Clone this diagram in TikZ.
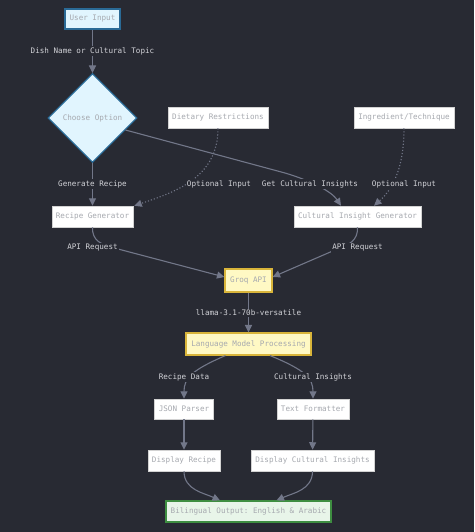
\documentclass[tikz,border=0pt]{standalone}
\usepackage{fontspec}
\setmonofont{DejaVu Sans Mono}
\usetikzlibrary{shapes.geometric,arrows.meta}
\definecolor{bg}{HTML}{282A33}
\definecolor{edgec}{HTML}{727789}
\definecolor{lblc}{HTML}{D2D3D8}
\definecolor{ntext}{HTML}{A6A9AF}
\definecolor{bluefill}{HTML}{E1F5FE}
\definecolor{blueedge}{HTML}{2A6A96}
\definecolor{yelfill}{HTML}{FFF9C4}
\definecolor{yeledge}{HTML}{D9B53A}
\definecolor{grnfill}{HTML}{E8F5E9}
\definecolor{grnedge}{HTML}{3E8E41}
\tikzset{
  base/.style={font=\ttfamily\fontsize{7.6}{9}\selectfont, text=ntext, inner sep=0pt, minimum height=21pt},
  plain/.style={base, fill=white, draw=gray!35, line width=0.5pt},
  bluebox/.style={base, fill=bluefill, draw=blueedge, line width=1.1pt},
  yelbox/.style={base, fill=yelfill, draw=yeledge, line width=1.1pt},
  grnbox/.style={base, fill=grnfill, draw=grnedge, line width=1.1pt},
  decision/.style={base, diamond, fill=bluefill, draw=blueedge, line width=1.1pt, minimum width=89pt, minimum height=89pt},
  lbl/.style={font=\ttfamily\fontsize{7.6}{9}\selectfont, text=lblc, fill=bg, inner sep=1pt},
  conn/.style={draw=edgec, line width=1.1pt, -{Triangle[length=7.5pt,width=7pt]}},
  optconn/.style={conn, dotted},
}
\begin{document}
\begin{tikzpicture}[x=1pt,y=-1pt]
\useasboundingbox (0,0) rectangle (474,532);
\fill[bg] (0,0) rectangle (474,532);

\node[bluebox, minimum width=55pt, minimum height=20pt] (ui) at (92.5,19) {User Input};
\node[decision] (dia) at (92.5,118) {Choose Option};
\node[plain, minimum width=100pt] (diet) at (218,117.5) {Dietary Restrictions};
\node[plain, minimum width=100pt] (ingr) at (404,117.5) {Ingredient/Technique};
\node[plain, minimum width=81pt] (rg) at (92.5,216.5) {Recipe Generator};
\node[plain, minimum width=127pt] (cig) at (357.5,216.5) {Cultural Insight Generator};
\node[yelbox, minimum width=47pt, minimum height=23pt] (gq) at (248.5,280.5) {Groq API};
\node[yelbox, minimum width=125pt, minimum height=22pt] (lmp) at (248.5,344) {Language Model Processing};
\node[plain, minimum width=59pt, minimum height=20pt] (jp) at (184,409) {JSON Parser};
\node[plain, minimum width=72pt, minimum height=20pt] (tf) at (313,409) {Text Formatter};
\node[plain, minimum width=72pt] (dr) at (184,460.5) {Display Recipe};
\node[plain, minimum width=123pt] (dci) at (312.5,460.5) {Display Cultural Insights};
\node[grnbox, minimum width=165pt] (bo) at (248.5,511.5) {Bilingual Output: English \& Arabic};

% connectors
\draw[conn] (ui) -- (dia);
\draw[conn] (dia) -- (rg);
\draw[conn] (dia.-20) -- (285,173) .. controls (312,181) and (332,192) .. ([xshift=-16.5pt]cig.north);
\draw[optconn] (diet.south) .. controls (218,178) and (175,192) .. ([xshift=1pt]rg.north east);
\draw[optconn] (ingr.south) .. controls (404,178) and (386,195) .. ([xshift=16.5pt]cig.north);
\draw[conn] (rg.south) .. controls (92,240) and (100,245) .. (118,249) -- ([yshift=3.5pt]gq.west);
\draw[conn] (cig.south) .. controls (358,240) and (350,245) .. (335,250) -- ([yshift=3.5pt]gq.east);
\draw[conn] (gq) -- (lmp);
\draw[conn] ([xshift=-23pt]lmp.south) .. controls (192,370) and (184,378) .. (jp.north);
\draw[conn] ([xshift=21.5pt]lmp.south) .. controls (305,370) and (313,378) .. (tf.north);
\draw[conn] (jp) -- (dr);
\draw[conn] (tf) -- (dci);
\draw[conn] (dr.south) .. controls (184,490) and (204,493) .. ([xshift=-28.5pt]bo.north);
\draw[conn] (dci.south) .. controls (312.5,490) and (293,493) .. ([xshift=28pt]bo.north);

% labels
\node[lbl] (l1) at (92.5,51) {Dish Name or Cultural Topic};
\node[lbl] (l2) at (92.5,184) {Generate Recipe};
\node[lbl] (l3) at (219,184) {Optional Input};
\node[lbl] (l4) at (310,184) {Get Cultural Insights};
\node[lbl] (l5) at (404,184) {Optional Input};
\node[lbl] (l6) at (92.5,248) {API Request};
\node[lbl] (l7) at (357.5,248) {API Request};
\node[lbl] (l8) at (248.5,313) {llama-3.1-70b-versatile};
\node[lbl] (l9) at (184,377) {Recipe Data};
\node[lbl] (l10) at (313,377) {Cultural Insights};
\end{tikzpicture}
\end{document}
